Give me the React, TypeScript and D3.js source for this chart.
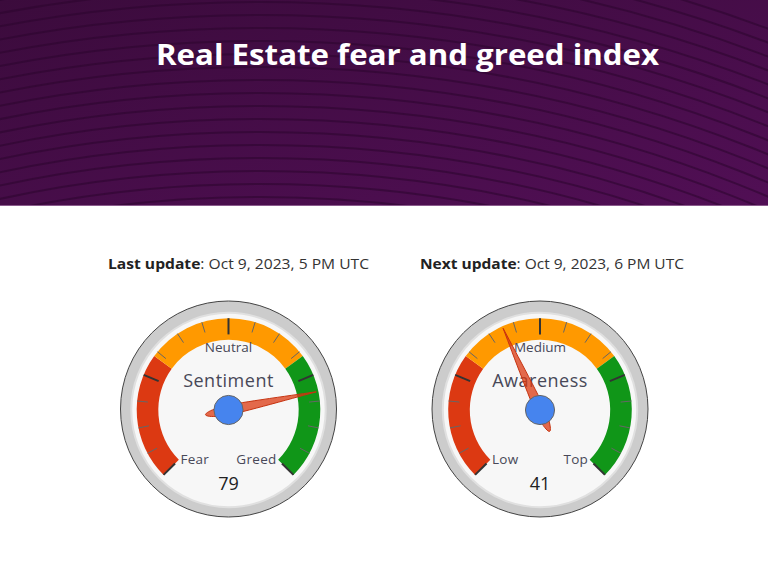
import React from "react";
import * as d3 from "d3";

const W = 768;
const H = 562;

const titleText = "Real Estate fear and greed index";
const updateLabels = ["Last update", "Next update"];
const updateTimes = ["Oct 9, 2023, 5 PM UTC", "Oct 9, 2023, 6 PM UTC"];

const gaugeNames = ["Sentiment", "Awareness"];
const gaugeValues = [79, 41];
const minLabels = ["Fear", "Low"];
const midLabels = ["Neutral", "Medium"];
const maxLabels = ["Greed", "Top"];

const bandStarts = [0, 30, 70];
const bandEnds = [30, 70, 100];
const bandColors = ["#dc3912", "#ff9900", "#109618"];

const majorTicks = [0, 25, 50, 75, 100];
const minorPerMajor = 3;

const gaugeCenters = [228.5, 540];
const gaugeCy = 410;
const R = 108;

const angle = d3.scaleLinear().domain([0, 100]).range([-135, 135]);
const rad = (deg: number) => (deg * Math.PI) / 180;
const pt = (cx: number, cy: number, v: number, f: number): [number, number] => {
  const a = rad(angle(v));
  return [cx + R * f * Math.sin(a), cy - R * f * Math.cos(a)];
};

function Gauge({ i }: { i: number }) {
  const cx = gaugeCenters[i];
  const cy = gaugeCy;
  const value = gaugeValues[i];
  const arc = d3.arc<any>();
  const minorVals: number[] = [];
  for (let k = 0; k < majorTicks.length - 1; k++) {
    const step = (majorTicks[k + 1] - majorTicks[k]) / (minorPerMajor + 1);
    for (let m = 1; m <= minorPerMajor; m++) minorVals.push(majorTicks[k] + m * step);
  }
  const delta = 100 / 12;
  const tailV = value - (100 * (360 / 270)) / 2;
  const pts: [number, number][] = [
    pt(cx, cy, value, 0.83),
    pt(cx, cy, value - delta, 0.12),
    pt(cx, cy, tailV + delta, 0.12),
    pt(cx, cy, tailV, 0.27),
    pt(cx, cy, tailV - delta, 0.12),
    pt(cx, cy, value + delta, 0.12),
    pt(cx, cy, value, 0.83),
  ];
  const needle = d3.line().curve(d3.curveBasis)(pts) || "";
  const minP = pt(cx, cy, 0, 0.63);
  const maxP = pt(cx, cy, 100, 0.63);
  const font = "'Open Sans', 'Noto Sans', sans-serif";
  return (
    <g>
      <circle cx={cx} cy={cy - 1} r={R} fill="#cccccc" stroke="#444" strokeWidth={1} />
      <circle cx={cx} cy={cy} r={R * 0.9} fill="#f7f7f7" stroke="#e0e0e0" strokeWidth={2} />
      {bandStarts.map((s, k) => (
        <path
          key={k}
          transform={`translate(${cx},${cy})`}
          d={
            arc({
              innerRadius: R * 0.65,
              outerRadius: R * 0.85,
              startAngle: rad(angle(s)),
              endAngle: rad(angle(bandEnds[k])),
            }) || ""
          }
          fill={bandColors[k]}
        />
      ))}
      {minorVals.map((v, k) => {
        const a = pt(cx, cy, v, 0.75);
        const b = pt(cx, cy, v, 0.85);
        return <line key={k} x1={a[0]} y1={a[1]} x2={b[0]} y2={b[1]} stroke="#666" strokeWidth={1} />;
      })}
      {majorTicks.map((v, k) => {
        const a = pt(cx, cy, v, 0.7);
        const b = pt(cx, cy, v, 0.85);
        return <line key={k} x1={a[0]} y1={a[1]} x2={b[0]} y2={b[1]} stroke="#333" strokeWidth={2} />;
      })}
      <text x={cx} y={352} textAnchor="middle" fontFamily={font} fontSize={13.5} fill="#484858">
        {midLabels[i]}
      </text>
      <text x={cx} y={387} textAnchor="middle" fontFamily={font} fontSize={18} fill="#484858" letterSpacing={0.5}>
        {gaugeNames[i]}
      </text>
      <text x={minP[0]} y={463.5} textAnchor="start" fontFamily={font} fontSize={13.5} fill="#484858" letterSpacing={0.3}>
        {minLabels[i]}
      </text>
      <text x={maxP[0]} y={463.5} textAnchor="end" fontFamily={font} fontSize={13.5} fill="#484858" letterSpacing={0.3}>
        {maxLabels[i]}
      </text>
      <text x={cx} y={489.5} textAnchor="middle" fontFamily={font} fontSize={18} fill="#222">
        {String(value)}
      </text>
      <path d={needle} fill="#dc3912" fillOpacity={0.75} stroke="#c63310" strokeWidth={1} />
      <circle cx={cx} cy={cy} r={R * 0.135} fill="#4684ee" stroke="#666" strokeWidth={1} />
    </g>
  );
}

export default function App() {
  const radii = d3.range(0, 22).map((k) => 1180 + k * 13);
  const lineCx = 260;
  const lineCy = 1390;
  const headerH = 206;
  const font = "'Open Sans', 'Noto Sans', sans-serif";
  const updX = [108, 420];
  const updW = [261, 264];
  return (
    <svg
      width={W}
      height={H}
      viewBox={`0 0 ${W} ${H}`}
      style={{ position: "absolute", left: 0, top: 0, display: "block", background: "#fff" }}
    >
      <defs>
        <linearGradient id="hdr" x1="0" y1="0" x2="1" y2="1">
          <stop offset="0%" stopColor="#3b0b3c" />
          <stop offset="100%" stopColor="#510f55" />
        </linearGradient>
        <clipPath id="hdrClip">
          <rect x={0} y={0} width={W} height={headerH} />
        </clipPath>
      </defs>
      <rect x={0} y={0} width={W} height={H} fill="#ffffff" />
      <rect x={0} y={0} width={W} height={headerH} fill="url(#hdr)" />
      <g clipPath="url(#hdrClip)">
        {radii.map((r, k) => (
          <circle key={k} cx={lineCx} cy={lineCy} r={r} fill="none" stroke="#2c062d" strokeOpacity={0.55} strokeWidth={2} />
        ))}
      </g>
      <rect x={0} y={headerH - 1} width={W} height={1} fill="#8a5a8c" />
      <text
        x={407.5}
        y={65}
        textAnchor="middle"
        fontFamily={font}
        fontWeight={700}
        fontSize={29}
        fill="#ffffff"
        textLength={503}
        lengthAdjust="spacingAndGlyphs"
      >
        {titleText}
      </text>
      {updateLabels.map((lab, k) => (
        <text
          key={k}
          x={updX[k]}
          y={269}
          fontFamily={font}
          fontSize={14}
          fill="#333"
          textLength={updW[k]}
          lengthAdjust="spacingAndGlyphs"
        >
          <tspan fontWeight={700} fill="#222">{lab}</tspan>
          <tspan>{": " + updateTimes[k]}</tspan>
        </text>
      ))}
      {gaugeNames.map((_, i) => (
        <Gauge key={i} i={i} />
      ))}
    </svg>
  );
}
